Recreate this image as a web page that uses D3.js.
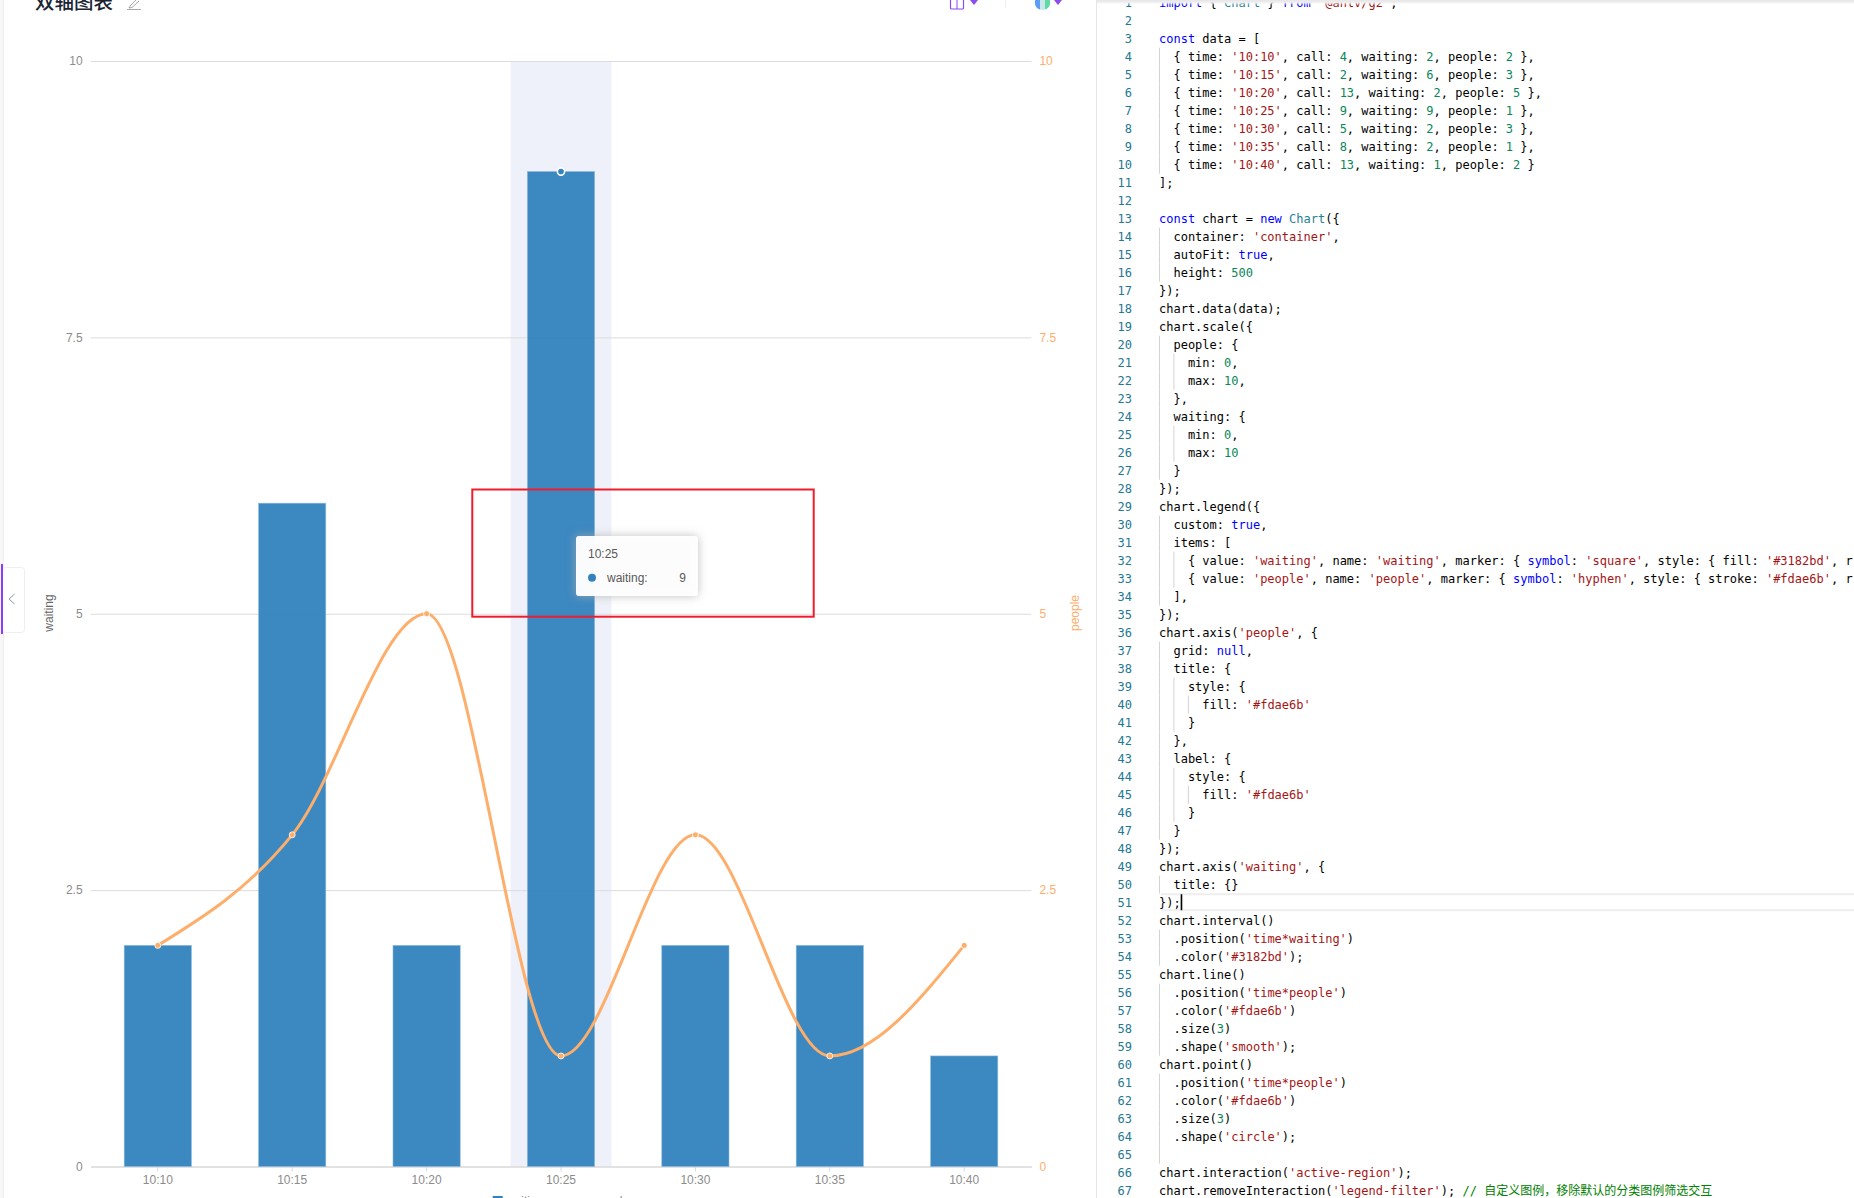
<!DOCTYPE html>
<html>
<head>
<meta charset="utf-8">
<script src="https://cdn.jsdelivr.net/npm/d3@7"></script>
<style>
    html, body { margin: 0; padding: 0; background: #fff; overflow: hidden; }
    svg { display: block; }
    text { font-family: "Liberation Sans", Arial, sans-serif; }
    .code text { font-family: "DejaVu Sans Mono", "Noto Sans CJK SC", monospace; font-size: 12px; white-space: pre; }
</style>
</head>
<body>
<div id="container"></div>
<script>
const times = ['10:10', '10:15', '10:20', '10:25', '10:30', '10:35', '10:40'];
const waiting = [2, 6, 2, 9, 2, 2, 1];
const people = [2, 3, 5, 1, 3, 1, 2];
const yTicks = [0, 2.5, 5, 7.5, 10];
const activeIndex = 3;

const codeLines = [
    "import { Chart } from '@antv/g2';",
    "",
    "const data = [",
    "  { time: '10:10', call: 4, waiting: 2, people: 2 },",
    "  { time: '10:15', call: 2, waiting: 6, people: 3 },",
    "  { time: '10:20', call: 13, waiting: 2, people: 5 },",
    "  { time: '10:25', call: 9, waiting: 9, people: 1 },",
    "  { time: '10:30', call: 5, waiting: 2, people: 3 },",
    "  { time: '10:35', call: 8, waiting: 2, people: 1 },",
    "  { time: '10:40', call: 13, waiting: 1, people: 2 }",
    "];",
    "",
    "const chart = new Chart({",
    "  container: 'container',",
    "  autoFit: true,",
    "  height: 500",
    "});",
    "chart.data(data);",
    "chart.scale({",
    "  people: {",
    "    min: 0,",
    "    max: 10,",
    "  },",
    "  waiting: {",
    "    min: 0,",
    "    max: 10",
    "  }",
    "});",
    "chart.legend({",
    "  custom: true,",
    "  items: [",
    "    { value: 'waiting', name: 'waiting', marker: { symbol: 'square', style: { fill: '#3182bd', r",
    "    { value: 'people', name: 'people', marker: { symbol: 'hyphen', style: { stroke: '#fdae6b', r",
    "  ],",
    "});",
    "chart.axis('people', {",
    "  grid: null,",
    "  title: {",
    "    style: {",
    "      fill: '#fdae6b'",
    "    }",
    "  },",
    "  label: {",
    "    style: {",
    "      fill: '#fdae6b'",
    "    }",
    "  }",
    "});",
    "chart.axis('waiting', {",
    "  title: {}",
    "});",
    "chart.interval()",
    "  .position('time*waiting')",
    "  .color('#3182bd');",
    "chart.line()",
    "  .position('time*people')",
    "  .color('#fdae6b')",
    "  .size(3)",
    "  .shape('smooth');",
    "chart.point()",
    "  .position('time*people')",
    "  .color('#fdae6b')",
    "  .size(3)",
    "  .shape('circle');",
    "  ",
    "chart.interaction('active-region');",
    "chart.removeInteraction('legend-filter'); // 自定义图例，移除默认的分类图例筛选交互"
];

const width = 1854, height = 1198;
const plot = {left: 90.6, right: 1031.4, top: 61, bottom: 1166.5};
const blue = '#3182bd', orange = '#fdae6b';

const svg = d3.select('#container').append('svg')
    .attr('width', width)
    .attr('height', height);

const defs = svg.append('defs');
const shadow = defs.append('filter').attr('id', 'tipShadow')
    .attr('x', '-30%').attr('y', '-30%').attr('width', '160%').attr('height', '160%');
shadow.append('feDropShadow')
    .attr('dx', 0).attr('dy', 0).attr('stdDeviation', 5)
    .attr('flood-color', '#aeaeae').attr('flood-opacity', 0.8);

let x = d3.scaleBand()
    .domain(times)
    .range([plot.left, plot.right])
    .paddingInner(0.5)
    .paddingOuter(0.25);
let xCenter = (t) => x(t) + x.bandwidth() / 2;

let yWaiting = d3.scaleLinear().domain([0, 10]).range([plot.bottom, plot.top]);
let yPeople = d3.scaleLinear().domain([0, 10]).range([plot.bottom, plot.top]);

// page chrome behind the chart
svg.append('rect').attr('width', 3).attr('height', height).attr('fill', '#f7f7f7');
svg.append('line').attr('x1', 3.5).attr('x2', 3.5).attr('y1', 0).attr('y2', height).attr('stroke', '#eeeeee');

// active region
svg.append('rect')
    .attr('x', xCenter(times[activeIndex]) - x.step() * 0.375)
    .attr('y', plot.top)
    .attr('width', x.step() * 0.75)
    .attr('height', plot.bottom - plot.top)
    .attr('fill', '#eef1f9');

// grid + left axis
const leftAxis = svg.append('g')
    .attr('transform', `translate(${plot.left},0)`)
    .call(d3.axisLeft(yWaiting).tickValues(yTicks).tickFormat(d3.format('~g')).tickSize(0).tickPadding(8));
leftAxis.select('.domain').remove();
leftAxis.selectAll('text').attr('fill', '#8c8c8c').style('font-size', '12px');
leftAxis.selectAll('.tick').filter((d) => d !== 0).append('line')
    .attr('x2', plot.right - plot.left)
    .attr('stroke', '#dcdce0');

// right axis
const rightAxis = svg.append('g')
    .attr('transform', `translate(${plot.right},0)`)
    .call(d3.axisRight(yPeople).tickValues(yTicks).tickFormat(d3.format('~g')).tickSize(0).tickPadding(8));
rightAxis.select('.domain').remove();
rightAxis.selectAll('text').attr('fill', orange).style('font-size', '12px');

// bottom axis
const bottomAxis = svg.append('g')
    .attr('transform', `translate(0,${plot.bottom})`)
    .call(d3.axisBottom(x).tickSize(5).tickSizeOuter(0).tickPadding(4));
bottomAxis.select('.domain').attr('stroke', '#d9d9d9').attr('stroke-width', 1.4);
bottomAxis.selectAll('line').attr('stroke', '#d9d9d9');
bottomAxis.selectAll('text').attr('fill', '#8c8c8c').style('font-size', '12px');

// axis titles
svg.append('text')
    .attr('transform', 'translate(49,613) rotate(-90)')
    .attr('text-anchor', 'middle').attr('dominant-baseline', 'central')
    .style('font-size', '12px').attr('fill', '#666')
    .text('waiting');
svg.append('text')
    .attr('transform', 'translate(1075,613) rotate(-90)')
    .attr('text-anchor', 'middle').attr('dominant-baseline', 'central')
    .style('font-size', '12px').attr('fill', orange)
    .text('people');

// bars
svg.append('g').selectAll('rect')
    .data(waiting)
    .enter()
    .append('rect')
    .attr('x', (d, i) => x(times[i]))
    .attr('y', (d) => yWaiting(d))
    .attr('width', x.bandwidth())
    .attr('height', (d) => plot.bottom - yWaiting(d))
    .attr('fill', blue)
    .attr('fill-opacity', 0.95)
    .attr('stroke', '#8ab8dc')
    .attr('stroke-width', 0.6);

// smooth line
const line = d3.line()
    .x((d, i) => xCenter(times[i]))
    .y((d) => yPeople(d))
    .curve(d3.curveMonotoneX);
svg.append('path')
    .datum(people)
    .attr('d', line)
    .attr('fill', 'none')
    .attr('stroke', orange)
    .attr('stroke-width', 3);

// points
svg.append('g').selectAll('circle')
    .data(people)
    .enter()
    .append('circle')
    .attr('cx', (d, i) => xCenter(times[i]))
    .attr('cy', (d) => yPeople(d))
    .attr('r', 3)
    .attr('fill', orange)
    .attr('stroke', '#fff')
    .attr('stroke-width', 0.8);

// active marker on top of the bar
svg.append('circle')
    .attr('cx', xCenter(times[activeIndex]))
    .attr('cy', yWaiting(waiting[activeIndex]))
    .attr('r', 3.6)
    .attr('fill', blue)
    .attr('stroke', '#fff')
    .attr('stroke-width', 1.6);

// tooltip
const tip = svg.append('g');
tip.append('rect')
    .attr('x', 576).attr('y', 536).attr('width', 122).attr('height', 60).attr('rx', 3)
    .attr('fill', '#fff').attr('fill-opacity', 0.95)
    .attr('filter', 'url(#tipShadow)');
tip.append('text').attr('x', 588).attr('y', 558).style('font-size', '12px').attr('fill', '#595959')
    .text(times[activeIndex]);
tip.append('circle').attr('cx', 592).attr('cy', 577.7).attr('r', 4).attr('fill', blue);
tip.append('text').attr('x', 607).attr('y', 582).style('font-size', '12px').attr('fill', '#595959')
    .text('waiting:');
tip.append('text').attr('x', 686).attr('y', 582).attr('text-anchor', 'end').style('font-size', '12px').attr('fill', '#595959')
    .text(waiting[activeIndex]);

// red annotation box
svg.append('rect')
    .attr('x', 472.3).attr('y', 489.5).attr('width', 341.4).attr('height', 127.2)
    .attr('fill', 'none').attr('stroke', '#f01c2c').attr('stroke-width', 2);

// legend, cut by the window
svg.append('rect').attr('x', 492.7).attr('y', 1196).attr('width', 10).attr('height', 10).attr('fill', blue);
svg.append('text').attr('x', 506).attr('y', 1205).style('font-size', '12px').attr('fill', '#8c8c8c').text('waiting');
svg.append('line').attr('x1', 570).attr('x2', 586).attr('y1', 1201).attr('y2', 1201).attr('stroke', orange).attr('stroke-width', 2);
svg.append('text').attr('x', 593).attr('y', 1205).style('font-size', '12px').attr('fill', '#8c8c8c').text('people');

// title, cut by the window
svg.append('text')
    .attr('x', 35).attr('y', 9)
    .style('font-family', '"Noto Sans CJK SC"').style('font-size', '19.5px').style('font-weight', 500)
    .attr('fill', '#1a2433')
    .text('双轴图表');
svg.append('path')
    .attr('d', 'M130,6 L137,-1 M130,6 L129,8 L132,7.5 L139,1')
    .attr('fill', 'none').attr('stroke', '#a8a8a8');
svg.append('line').attr('x1', 127).attr('x2', 141).attr('y1', 9.5).attr('y2', 9.5).attr('stroke', '#a8a8a8');

// toolbar icons at the top right
const purple = '#8b4cf0';
svg.append('rect').attr('x', 950.5).attr('y', -6).attr('width', 13).attr('height', 15)
    .attr('rx', 1).attr('fill', 'none').attr('stroke', purple).attr('stroke-width', 1.2);
svg.append('line').attr('x1', 957).attr('x2', 957).attr('y1', 0).attr('y2', 9).attr('stroke', purple);
svg.append('path').attr('d', 'M970,0 L978,0 L974,5 Z').attr('fill', purple);
svg.append('line').attr('x1', 1005.5).attr('x2', 1005.5).attr('y1', 0).attr('y2', 8).attr('stroke', '#eeeeee');
svg.append('circle').attr('cx', 1042.5).attr('cy', 2.5).attr('r', 7.5).attr('fill', '#c9e6ea');
svg.append('path').attr('d', 'M1040,-4.6 A7.5,7.5 0 0 0 1040,9.6 Z').attr('fill', '#5b9cf5');
svg.append('path').attr('d', 'M1045,-4.6 A7.5,7.5 0 0 1 1045,9.6 Z').attr('fill', '#5fd9a5');
svg.append('path').attr('d', 'M1054,0 L1062,0 L1058,5 Z').attr('fill', purple);

// collapse tab on the left
svg.append('rect').attr('x', 2.5).attr('y', 567.5).attr('width', 22).attr('height', 65).attr('rx', 3)
    .attr('fill', '#fff').attr('stroke', '#eeeeee');
svg.append('rect').attr('x', 1).attr('y', 564).attr('width', 2).attr('height', 70).attr('fill', '#8b3dff');
svg.append('path').attr('d', 'M14.5,594 L9,599 L14.5,604')
    .attr('fill', 'none').attr('stroke', '#8a9ab5');

// code editor on the right
svg.append('line').attr('x1', 1096.5).attr('x2', 1096.5).attr('y1', 0).attr('y2', height).attr('stroke', '#e5e5e5');

const codeLeft = 1159, charW = 7.224, lineH = 18, firstLine = 2.7;
const code = svg.append('g').attr('class', 'code');
const lineY = (i) => firstLine + i * lineH;

// current line (51)
const currentLine = 50;
[-8.5, 7.5].forEach((dy) => {
    code.append('line')
        .attr('x1', 1161).attr('x2', width)
        .attr('y1', lineY(currentLine) + dy).attr('y2', lineY(currentLine) + dy)
        .attr('stroke', '#eeeeee').attr('stroke-width', 2);
});

// indent guides
codeLines.forEach((l, i) => {
    const depth = Math.floor(l.search(/\S|$/) / 2);
    d3.range(depth).forEach((k) => {
        code.append('line')
            .attr('x1', codeLeft + 0.5 + k * charW * 2)
            .attr('x2', codeLeft + 0.5 + k * charW * 2)
            .attr('y1', lineY(i) - lineH / 2)
            .attr('y2', lineY(i) + lineH / 2)
            .attr('stroke', '#d3d3d3');
    });
});

const tokenRe = /('[^']*')|(\/\/.*)|\b(const|new|true|null|import|from|symbol)\b|\b(Chart)\b|\b(\d+)\b/g;
const tokenColors = ['#a31515', '#008000', '#0000ff', '#267f99', '#098658'];

function tokenize(l) {
    let parts = [], last = 0, m;
    tokenRe.lastIndex = 0;
    while ((m = tokenRe.exec(l)) !== null) {
        if (m.index > last) parts.push({t: l.slice(last, m.index), c: '#000'});
        const idx = [1, 2, 3, 4, 5].find((g) => m[g] !== undefined) - 1;
        parts.push({t: m[0], c: tokenColors[idx]});
        last = m.index + m[0].length;
    }
    if (last < l.length) parts.push({t: l.slice(last), c: '#000'});
    return parts;
}

codeLines.forEach((l, i) => {
    code.append('text')
        .attr('x', 1132).attr('y', lineY(i)).attr('dy', '0.35em')
        .attr('text-anchor', 'end').attr('fill', '#237893')
        .text(i + 1);
    const row = code.append('text')
        .attr('x', codeLeft).attr('y', lineY(i)).attr('dy', '0.35em')
        .attr('xml:space', 'preserve');
    tokenize(l).forEach((p) => {
        row.append('tspan').attr('fill', p.c).text(p.t);
    });
});

// cursor
code.append('rect')
    .attr('x', codeLeft + 3 * charW).attr('y', lineY(currentLine) - 8.5)
    .attr('width', 1.6).attr('height', 16).attr('fill', '#000');

// editor header shade sits over the first code line
const topShade = defs.append('linearGradient').attr('id', 'topShade').attr('x1', 0).attr('x2', 0).attr('y1', 0).attr('y2', 1);
topShade.append('stop').attr('offset', 0).attr('stop-color', '#e6e6e9');
topShade.append('stop').attr('offset', 0.45).attr('stop-color', '#eeeef0');
topShade.append('stop').attr('offset', 1).attr('stop-color', '#ffffff').attr('stop-opacity', 0);
svg.append('rect').attr('x', 1097).attr('y', 0).attr('width', width - 1097).attr('height', 5).attr('fill', 'url(#topShade)');
</script>
</body>
</html>
